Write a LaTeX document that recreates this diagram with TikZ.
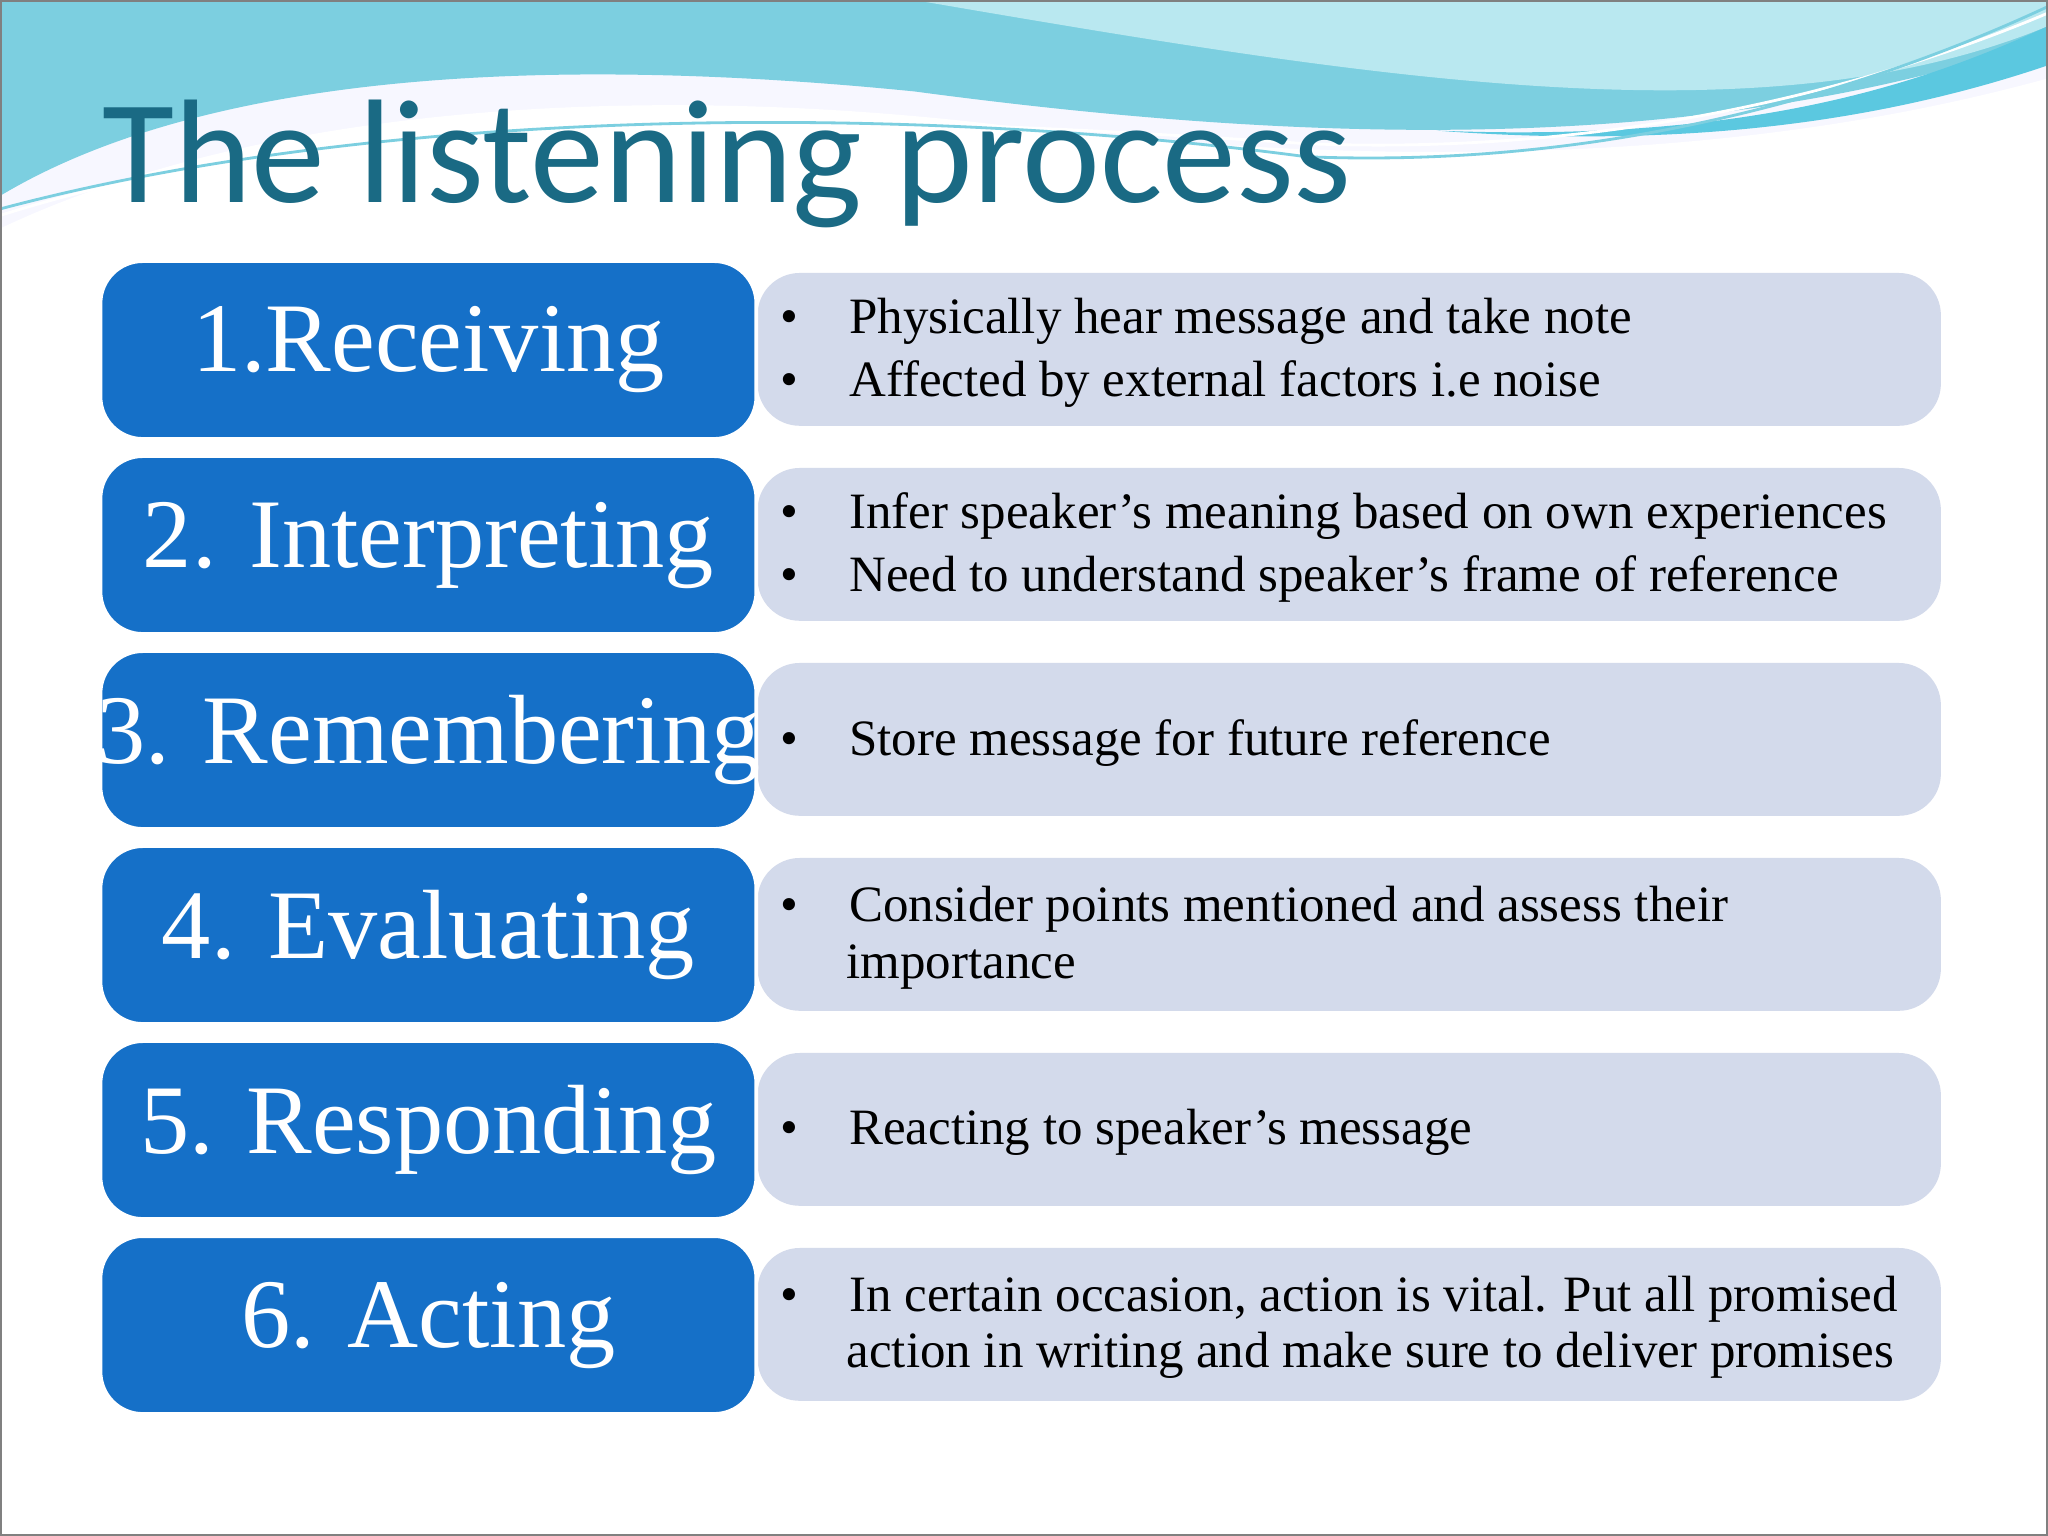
\documentclass[tikz,border=0pt]{standalone}
\usepackage{fontspec}
\setmainfont{Liberation Serif}
\newfontfamily\titlefont{Carlito}
\definecolor{bluebox}{HTML}{1570C8}
\definecolor{lightbox}{HTML}{D3DAEB}
\definecolor{titlec}{HTML}{1A6A84}
\definecolor{waveA}{HTML}{7CCFE0}
\definecolor{waveB}{HTML}{B9E8F0}
\definecolor{waveC}{HTML}{5BC8E0}
\begin{document}
\begin{tikzpicture}[x=0.01306cm,y=-0.01306cm,
  stepbox/.style={fill=bluebox,rounded corners=12pt,draw=white,line width=1pt},
  descbox/.style={fill=lightbox,rounded corners=12pt},
  steptext/.style={font=\fontsize{28}{30}\selectfont,text=white},
  desctext/.style={font=\fontsize{14.5}{16}\selectfont,text=black,anchor=west,align=left}]
\useasboundingbox (0,0) rectangle (1568,1176);
\fill[white!97!blue] (0,0) rectangle (1568,1176);
% waves
\fill[waveA] (0,0) -- (1568,0) -- (1568,30) .. controls (1300,120) and (1000,110) .. (700,70) .. controls (400,40) and (150,60) .. (0,150) -- cycle;
\fill[waveB] (700,0) -- (1568,0) -- (1568,20) .. controls (1350,110) and (1050,60) .. (700,0) -- cycle;
\fill[waveC] (1100,100) .. controls (1350,110) and (1480,60) .. (1568,20) -- (1568,50) .. controls (1450,90) and (1300,115) .. (1100,100) -- cycle;
\fill[white] (0,175) .. controls (200,80) and (500,60) .. (800,100) .. controls (1100,130) and (1350,120) .. (1568,60) -- (1568,1176) -- (0,1176) -- cycle;
\draw[white,line width=0.8pt] (0,165) .. controls (300,70) and (700,90) .. (1000,110) .. controls (1250,120) and (1450,60) .. (1568,10);
\draw[waveA,line width=0.8pt] (0,160) .. controls (300,80) and (700,80) .. (1000,120) .. controls (1250,130) and (1450,60) .. (1568,5);
\draw[gray,line width=1pt] (0,0) rectangle (1568,1176);
\node[anchor=base west,inner sep=0,text=titlec,font=\titlefont\fontsize{42}{44}\selectfont] (title) at (78,155) {The listening process};
% rows
\foreach \i/\lab/\d [count=\n] in {
 0/{1.Receiving}/{\textbullet\hspace{1em}Physically hear message and take note\\[2pt]\textbullet\hspace{1em}Affected by external factors i.e noise},
 1/{2. Interpreting}/{\textbullet\hspace{1em}Infer speaker’s meaning based on own experiences\\[2pt]\textbullet\hspace{1em}Need to understand speaker’s frame of reference},
 2/{3. Remembering}/{\textbullet\hspace{1em}Store message for future reference},
 3/{4. Evaluating}/{\textbullet\hspace{1em}Consider points mentioned and assess their\\\hspace{1.3em}importance},
 4/{5. Responding}/{\textbullet\hspace{1em}Reacting to speaker’s message},
 5/{6. Acting}/{\textbullet\hspace{1em}In certain occasion, action is vital. Put all promised\\\hspace{1.3em}action in writing and make sure to deliver promises}} {
  \pgfmathsetmacro{\yy}{200+149.3*\i}
  \path[descbox] (580,\yy+9) rectangle (1486,\yy+126);
  \path[stepbox] (77,\yy) rectangle (579,\yy+136);
  \node[steptext] (s\n) at (328,\yy+68) {\lab};
  \node[desctext] (d\n) at (588,\yy+70) {\d};
}
\end{tikzpicture}
\end{document}
